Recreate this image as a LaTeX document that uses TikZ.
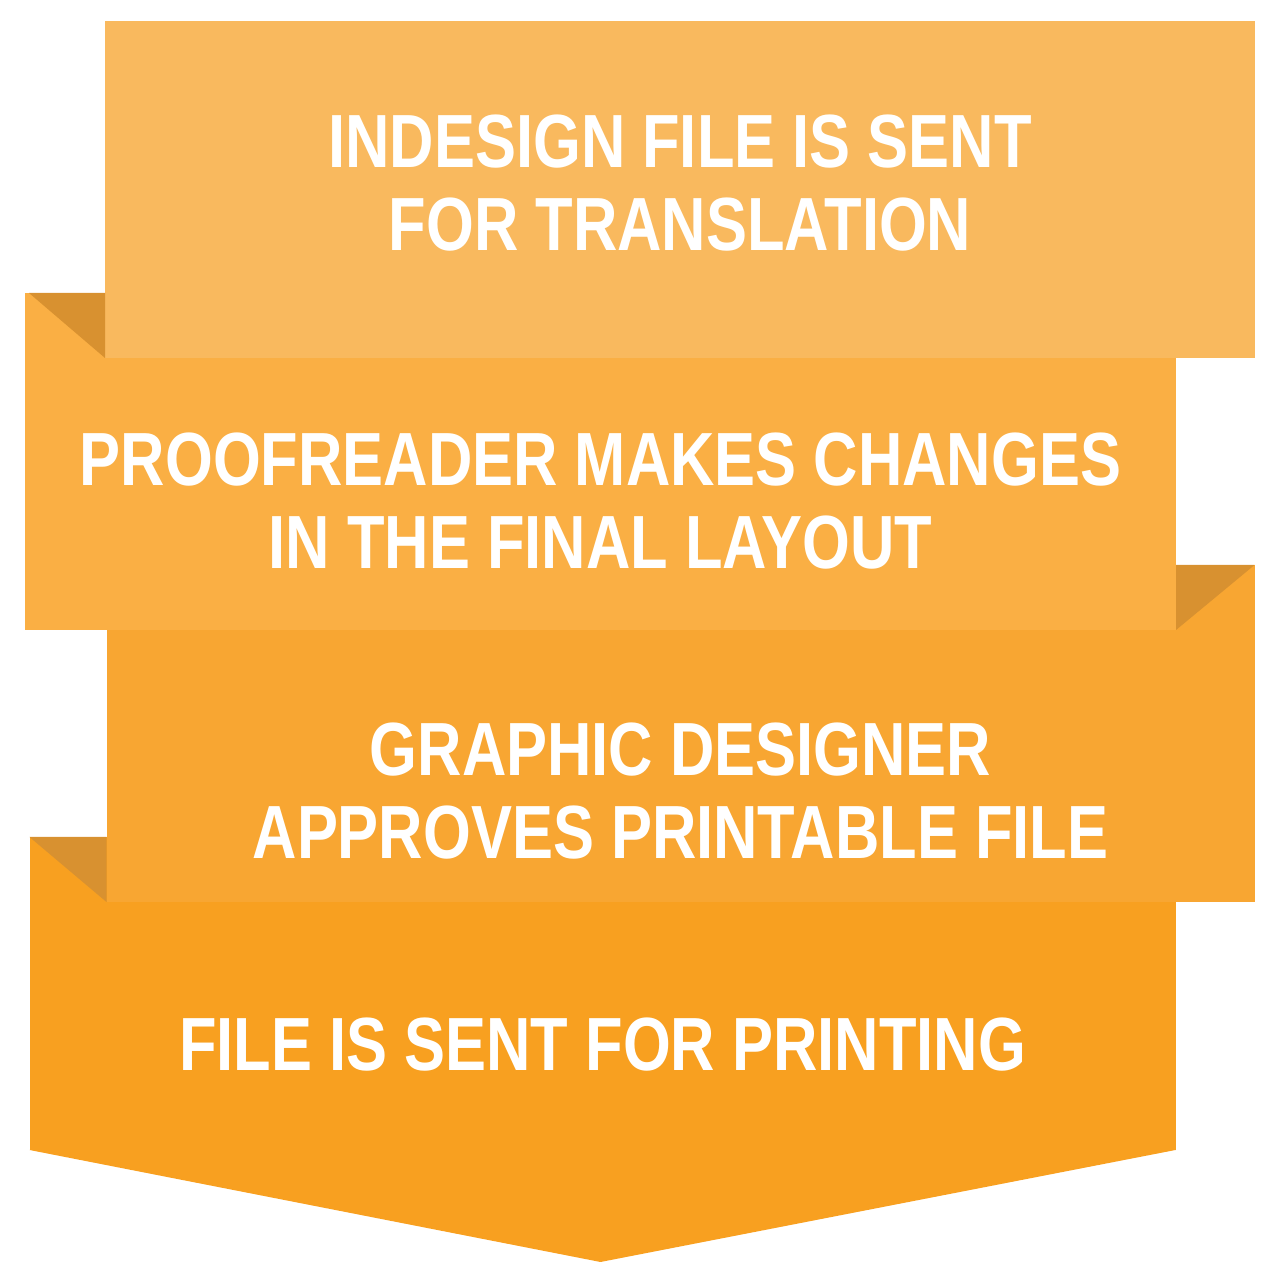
\documentclass[tikz,border=0pt]{standalone}
\usepackage{fontspec}
\usepackage{xcolor}
\usepackage{tikz}
\usetikzlibrary{positioning, calc}

\newfontfamily\bandfont[FakeStretch=0.815]{Liberation Sans}

\definecolor{bandA}{RGB}{249,185,94}
\definecolor{bandB}{RGB}{250,175,68}
\definecolor{bandC}{RGB}{248,166,50}
\definecolor{bandD}{RGB}{248,160,32}
\definecolor{foldcol}{RGB}{216,145,48}

\begin{document}
\begin{tikzpicture}
    % Styles
    \tikzset{
        band/.style    = {rectangle, inner sep=0pt, outer sep=0pt, minimum height=2.72cm},
        caption/.style = {text=white, align=center, inner sep=0pt, font=\bandfont\bfseries\fontsize{21.45}{23.6}\selectfont},
        fold/.style    = {fill=foldcol}
    }
    \useasboundingbox (0,0) rectangle (12.8,12.8);

    % Bandes
    \node [band, fill=bandA, minimum width=11.50cm, minimum height=3.37cm] (band1) at (6.80,10.905) {};
    \node [band, fill=bandB, minimum width=11.51cm, below=0pt of band1, xshift=-0.795cm] (band2) {};
    \node [band, fill=bandC, minimum width=11.48cm, below=0pt of band2, xshift=0.80cm] (band3) {};
    \node [band, fill=bandD, minimum width=11.46cm, minimum height=2.48cm, below=0pt of band3, xshift=-0.78cm] (band4) {};

    % Pointe de la derniere bande
    \fill [bandD] (band4.south west) -- ($(band4.south)+(-0.02,-1.12)$) -- (band4.south east) -- cycle;

    % Plis
    \fill [bandB] (band2.north west) rectangle ($(band1.south west)+(0,0.65)$);
    \fill [fold] ($(band1.south west)+(-0.76,0.65)$) -- ($(band1.south west)+(0,0.65)$) -- (band1.south west) -- cycle;

    \fill [bandC] (band2.south east) rectangle ($(band3.north east)+(0,0.65)$);
    \fill [fold] ($(band2.south east)+(0,0.65)$) -- ($(band3.north east)+(0,0.65)$) -- (band2.south east) -- cycle;

    \fill [bandD] (band4.north west) rectangle ($(band3.south west)+(0,0.65)$);
    \fill [fold] ($(band4.north west)+(0,0.65)$) -- ($(band3.south west)+(0,0.65)$) -- (band3.south west) -- cycle;

    % Textes
    \node [caption, yshift=0.06cm] (cap1) at (band1) {INDESIGN FILE IS SENT\\FOR TRANSLATION};
    \node [caption, yshift=-0.07cm] (cap2) at (band2) {PROOFREADER MAKES CHANGES\\IN THE FINAL LAYOUT};
    \node [caption, yshift=-0.255cm] (cap3) at (band3) {GRAPHIC DESIGNER\\APPROVES PRINTABLE FILE};
    \node [caption, yshift=-0.185cm] (cap4) at (band4) {FILE IS SENT FOR PRINTING};
\end{tikzpicture}
\end{document}
